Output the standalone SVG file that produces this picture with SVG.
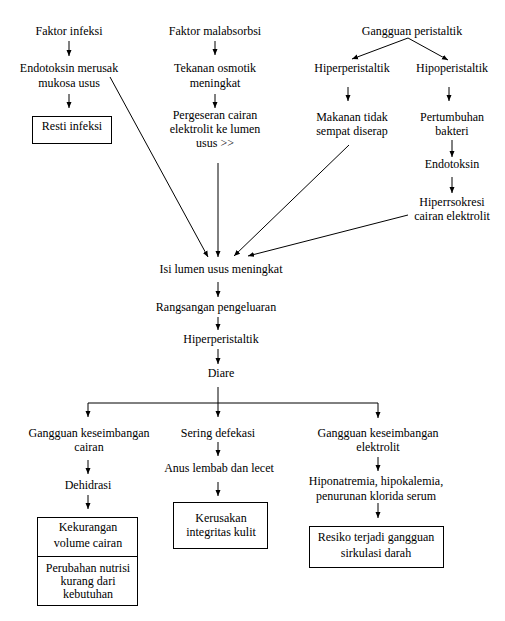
<svg xmlns="http://www.w3.org/2000/svg" width="505" height="621" viewBox="0 0 505 621" font-family="Liberation Serif, Tinos, Times New Roman, DejaVu Serif, Noto Serif, serif">
<style>
text{font-size:12px;fill:#000;text-anchor:middle}
.c{stroke:#000;stroke-width:1;fill:none}
.b{stroke:#000;stroke-width:1;fill:#fff}
</style>
<defs>
<marker id="ah" markerUnits="userSpaceOnUse" markerWidth="6" markerHeight="8" refX="6" refY="3" orient="auto">
<path d="M0,0.5 L6,3 L0,5.5 Z" fill="#000"/>
</marker>
</defs>
<rect width="505" height="621" fill="#fff"/>
<g id="connectors">
<line class="c" x1="69" y1="41" x2="69" y2="56" marker-end="url(#ah)"/>
<line class="c" x1="69" y1="94" x2="69" y2="108" marker-end="url(#ah)"/>
<line class="c" x1="215" y1="41" x2="215" y2="55" marker-end="url(#ah)"/>
<line class="c" x1="215" y1="94" x2="215" y2="108" marker-end="url(#ah)"/>
<line class="c" x1="218" y1="163" x2="218" y2="257" marker-end="url(#ah)"/>
<line class="c" x1="110" y1="77" x2="208" y2="257" marker-end="url(#ah)"/>
<line class="c" x1="408" y1="38" x2="352" y2="59" marker-end="url(#ah)"/>
<line class="c" x1="408" y1="38" x2="448" y2="60" marker-end="url(#ah)"/>
<line class="c" x1="348" y1="87" x2="348" y2="101" marker-end="url(#ah)"/>
<line class="c" x1="449" y1="87" x2="449" y2="101" marker-end="url(#ah)"/>
<line class="c" x1="452" y1="140" x2="452" y2="157" marker-end="url(#ah)"/>
<line class="c" x1="452" y1="177" x2="452" y2="193" marker-end="url(#ah)"/>
<line class="c" x1="349" y1="145" x2="234" y2="256" marker-end="url(#ah)"/>
<line class="c" x1="408" y1="215" x2="248" y2="256" marker-end="url(#ah)"/>
<line class="c" x1="218" y1="282" x2="218" y2="297" marker-end="url(#ah)"/>
<line class="c" x1="218" y1="317" x2="218" y2="330" marker-end="url(#ah)"/>
<line class="c" x1="218" y1="349" x2="218" y2="364" marker-end="url(#ah)"/>
<line class="c" x1="218" y1="387" x2="218" y2="403"/>
<line class="c" x1="88" y1="403" x2="378" y2="403"/>
<line class="c" x1="88" y1="403" x2="88" y2="417" marker-end="url(#ah)"/>
<line class="c" x1="218" y1="403" x2="218" y2="417" marker-end="url(#ah)"/>
<line class="c" x1="378" y1="403" x2="378" y2="418" marker-end="url(#ah)"/>
<line class="c" x1="88" y1="460" x2="88" y2="474" marker-end="url(#ah)"/>
<line class="c" x1="88" y1="495" x2="88" y2="509" marker-end="url(#ah)"/>
<line class="c" x1="218" y1="442" x2="218" y2="456" marker-end="url(#ah)"/>
<line class="c" x1="218" y1="482" x2="218" y2="496" marker-end="url(#ah)"/>
<line class="c" x1="378" y1="457" x2="378" y2="471" marker-end="url(#ah)"/>
<line class="c" x1="378" y1="503" x2="378" y2="518" marker-end="url(#ah)"/>
</g>
<g id="faktor-infeksi"><text x="69" y="35">Faktor infeksi</text></g>
<g id="endotoksin-merusak"><text x="69" y="72">Endotoksin merusak</text><text x="69" y="87">mukosa usus</text></g>
<g id="resti-infeksi"><rect class="b" x="32.5" y="116.5" width="79" height="27"/><text x="72" y="130">Resti infeksi</text></g>
<g id="faktor-malabsorbsi"><text x="215" y="35">Faktor malabsorbsi</text></g>
<g id="tekanan-osmotik"><text x="215" y="72">Tekanan osmotik</text><text x="215" y="87">meningkat</text></g>
<g id="pergeseran-cairan"><text x="215" y="119">Pergeseran cairan</text><text x="215" y="133">elektrolit ke lumen</text><text x="215" y="147">usus &gt;&gt;</text></g>
<g id="gangguan-peristaltik"><text x="412" y="35">Gangguan peristaltik</text></g>
<g id="hiperperistaltik-1"><text x="352" y="72">Hiperperistaltik</text></g>
<g id="hipoperistaltik"><text x="452" y="72">Hipoperistaltik</text></g>
<g id="makanan-tidak"><text x="352" y="121">Makanan tidak</text><text x="352" y="135">sempat diserap</text></g>
<g id="pertumbuhan-bakteri"><text x="452" y="121">Pertumbuhan</text><text x="452" y="135">bakteri</text></g>
<g id="endotoksin"><text x="452" y="168">Endotoksin</text></g>
<g id="hiperrsokresi"><text x="452" y="206">Hiperrsokresi</text><text x="452" y="220">cairan elektrolit</text></g>
<g id="isi-lumen"><text x="221" y="273">Isi lumen usus meningkat</text></g>
<g id="rangsangan"><text x="216" y="311">Rangsangan pengeluaran</text></g>
<g id="hiperperistaltik-2"><text x="221" y="343">Hiperperistaltik</text></g>
<g id="diare"><text x="221" y="377">Diare</text></g>
<g id="gangguan-cairan"><text x="89" y="437">Gangguan keseimbangan</text><text x="89" y="451">cairan</text></g>
<g id="dehidrasi"><text x="88" y="489">Dehidrasi</text></g>
<g id="kekurangan-volume"><rect class="b" x="37.5" y="517.5" width="100" height="88"/><line class="c" x1="37.5" y1="556.5" x2="137.5" y2="556.5"/><text x="88" y="531">Kekurangan</text><text x="88" y="547">volume cairan</text><text x="88" y="572">Perubahan nutrisi</text><text x="88" y="585">kurang dari</text><text x="88" y="598">kebutuhan</text></g>
<g id="sering-defekasi"><text x="218" y="437">Sering defekasi</text></g>
<g id="anus-lembab"><text x="219" y="472">Anus lembab dan lecet</text></g>
<g id="kerusakan-integritas"><rect class="b" x="173.5" y="502.5" width="94" height="46"/><text x="221" y="522">Kerusakan</text><text x="221" y="536">integritas kulit</text></g>
<g id="gangguan-elektrolit"><text x="378" y="437">Gangguan keseimbangan</text><text x="378" y="451">elektrolit</text></g>
<g id="hiponatremia"><text x="376" y="485">Hiponatremia, hipokalemia,</text><text x="376" y="500">penurunan klorida serum</text></g>
<g id="resiko-sirkulasi"><rect class="b" x="309.5" y="526.5" width="134" height="41"/><text x="376" y="541">Resiko terjadi gangguan</text><text x="376" y="557">sirkulasi darah</text></g>
</svg>
